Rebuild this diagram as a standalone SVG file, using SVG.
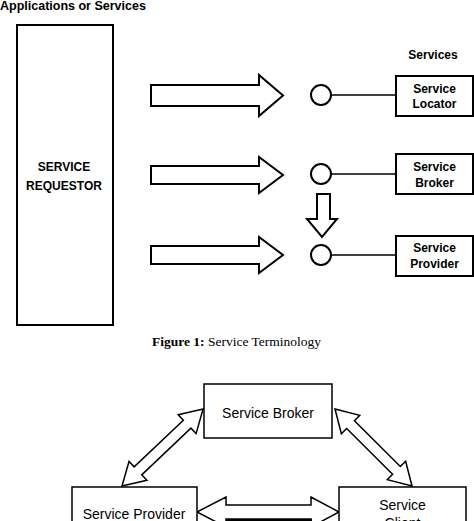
<svg xmlns="http://www.w3.org/2000/svg" width="474" height="521" viewBox="0 0 474 521">
<style>
.bg{fill:#fff}
.box{fill:#fff;stroke:#000;stroke-width:2}
.box2{fill:#fff;stroke:#000;stroke-width:1.5}
.arr{fill:#fff;stroke:#000;stroke-width:2;stroke-linejoin:miter}
.arr2{fill:#fff;stroke:#000;stroke-width:1.5;stroke-linejoin:miter}
.ln{stroke:#000;stroke-width:1.5;fill:none}
.b{font-family:"Liberation Sans",Arial,sans-serif;font-weight:bold;font-size:12px;fill:#000;text-anchor:middle}
.c{font-family:"Liberation Sans",Arial,sans-serif;font-size:14px;fill:#000;text-anchor:middle}
.cap{font-family:"Liberation Serif","Times New Roman",serif;font-size:13.5px;fill:#000;text-anchor:middle}
</style>
<rect class="bg" x="0" y="0" width="474" height="521"/>
<text class="b" x="0" y="9.5" style="text-anchor:start;font-size:12.5px">Applications or Services</text>
<text class="b" x="433" y="59">Services</text>

<g id="requestor">
<rect class="box" x="17" y="25" width="96" height="300"/>
<text class="b" x="64" y="171">SERVICE</text>
<text class="b" x="64" y="190">REQUESTOR</text>
</g>

<g id="locator">
<rect class="box" x="396" y="76" width="77" height="40"/>
<text class="b" x="434.5" y="93">Service</text>
<text class="b" x="434.5" y="108">Locator</text>
</g>
<g id="broker">
<rect class="box" x="396" y="154" width="77" height="40"/>
<text class="b" x="434.5" y="171">Service</text>
<text class="b" x="434.5" y="187">Broker</text>
</g>
<g id="provider">
<rect class="box" x="396" y="236" width="77" height="40"/>
<text class="b" x="434.5" y="252">Service</text>
<text class="b" x="434.5" y="268">Provider</text>
</g>

<g id="connectors">
<polygon class="arr" points="151,85 259,85 259,75 283,95.5 259,116 259,106 151,106"/>
<polygon class="arr" points="151,166 259,166 259,157 283,175 259,193 259,184 151,184"/>
<polygon class="arr" points="151,246 259,246 259,237 283,255 259,273 259,264 151,264"/>
<polygon class="arr" points="317,194 330,194 330,219 337,219 322,237 307,219 317,219"/>
<circle class="box" cx="321" cy="95" r="10"/>
<circle class="box" cx="321" cy="174" r="10"/>
<circle class="box" cx="321" cy="255" r="10"/>
<line class="ln" x1="331" y1="95" x2="396" y2="95"/>
<line class="ln" x1="331" y1="174" x2="396" y2="174"/>
<line class="ln" x1="331" y1="255" x2="396" y2="255"/>

<g transform="translate(122,486) rotate(-43.5)">
<polygon class="arr2" points="0,0 22,-13 22,-5.5 89.8,-5.5 89.8,-13 111.8,0 89.8,13 89.8,5.5 22,5.5 22,13"/>
</g>
<g transform="translate(335,409) rotate(45)">
<polygon class="arr2" points="0,0 22,-13 22,-5.5 86.9,-5.5 86.9,-13 108.9,0 86.9,13 86.9,5.5 22,5.5 22,13"/>
</g>
<polygon class="arr2" points="197,512 226,497 226,505 311,505 311,497 339,512 311,527 311,519 226,519 226,527"/>
<rect x="226" y="519" width="86" height="6" fill="#000"/>
</g>

<text class="cap" x="236.5" y="346"><tspan font-weight="bold">Figure 1:</tspan> Service Terminology</text>

<g id="sbroker">
<rect class="box2" x="204" y="384" width="128" height="54"/>
<text class="c" x="268" y="418">Service Broker</text>
</g>
<g id="sprovider">
<rect class="box2" x="72" y="487" width="125" height="40"/>
<text class="c" x="134" y="519">Service Provider</text>
</g>
<g id="sclient">
<rect class="box2" x="339" y="487" width="127" height="40"/>
<text class="c" x="402.5" y="509.5">Service</text>
<text class="c" x="402.5" y="528">Client</text>
</g>
</svg>
